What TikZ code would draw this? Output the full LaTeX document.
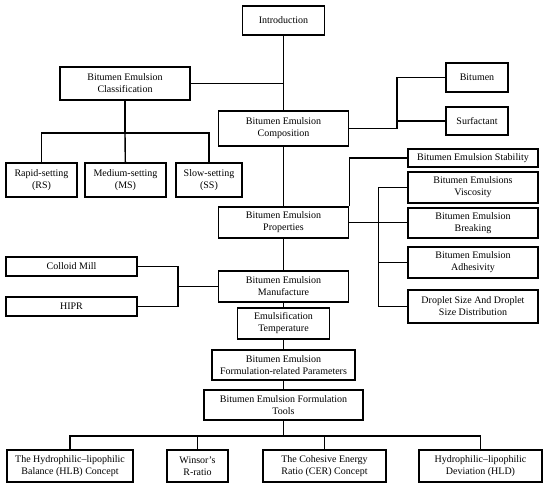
\documentclass[tikz,border=0pt]{standalone}
\usepackage{fontspec}
\setmainfont{Liberation Serif}
\usetikzlibrary{positioning,calc}

\begin{document}
\begin{tikzpicture}[
  x=1pt, y=-1pt,
  font=\fontsize{10}{12}\selectfont,
  blk/.style={draw, line width=1.4pt, align=center, inner sep=0pt,
              minimum height=31pt},
  link/.style={line width=1.4pt}
]
  \useasboundingbox (0,0) rectangle (550,490);
  % trunk
  \node[blk, minimum width=82, minimum height=29] (intro) at (283.5,20.5) {Introduction};
  \node[blk, minimum width=130, minimum height=35] (comp) at (283.5,128.5) {Bitumen Emulsion\\Composition};
  \node[blk, minimum width=130] (prop) at (283.5,222.5) {Bitumen Emulsion\\Properties};
  \node[blk, minimum width=130] (manu) at (283.5,286.5) {Bitumen Emulsion\\Manufacture};
  \node[blk, minimum width=92] (temp) at (283.5,323.5) {Emulsification\\Temperature};
  \node[blk, minimum width=143, minimum height=30] (param) at (283.5,365) {Bitumen Emulsion\\Formulation-related Parameters};
  \node[blk, minimum width=159, minimum height=30] (tools) at (283.5,405) {Bitumen Emulsion Formulation\\Tools};
  % classification
  \node[blk, minimum width=130, minimum height=33] (class) at (125,83.5) {Bitumen Emulsion\\Classification};
  \node[blk, minimum width=71, minimum height=34] (rs) at (41.5,180) {Rapid-setting\\(RS)};
  \node[blk, minimum width=81, minimum height=34] (ms) at (125.5,180) {Medium-setting\\(MS)};
  \node[blk, minimum width=66, minimum height=34] (ss) at (209,180) {Slow-setting\\(SS)};
  % composition
  \node[blk, minimum width=62, minimum height=29] (bit) at (477,77.5) {Bitumen};
  \node[blk, minimum width=62, minimum height=28] (surf) at (477,121) {Surfactant};
  % properties
  \node[blk, minimum width=130, minimum height=18] (stab) at (473,158) {Bitumen Emulsion Stability};
  \node[blk, minimum width=130] (visc) at (473,187.5) {Bitumen Emulsions\\Viscosity};
  \node[blk, minimum width=130, minimum height=30] (brk) at (473,223) {Bitumen Emulsion\\Breaking};
  \node[blk, minimum width=130] (adh) at (473,262.5) {Bitumen Emulsion\\Adhesivity};
  \node[blk, minimum width=130, minimum height=33] (drop) at (473,306.5) {Droplet Size And Droplet\\Size Distribution};
  % manufacture
  \node[blk, minimum width=131, minimum height=19] (mill) at (71.5,266.5) {Colloid Mill};
  \node[blk, minimum width=131, minimum height=19] (hipr) at (71.5,306.5) {HIPR};
  % formulation tools
  \node[blk, minimum width=126, minimum height=32] (hlb) at (70,466) {The Hydrophilic–lipophilic\\Balance (HLB) Concept};
  \node[blk, minimum width=61, minimum height=32] (winsor) at (197.5,466) {Winsor’s\\R-ratio};
  \node[blk, minimum width=123, minimum height=32] (cer) at (324.5,466) {The Cohesive Energy\\Ratio (CER) Concept};
  \node[blk, minimum width=123, minimum height=32] (hld) at (480.5,466) {Hydrophilic–lipophilic\\Deviation (HLD)};

  \coordinate (cbus) at (125,133);
  \coordinate (cj) at (397,128.5);
  \coordinate (mj) at (178,286.5);
  \coordinate (tbus) at (283.5,436);

  % main line
  \draw[link] (intro) -- (comp);
  \draw[link] (comp) -- (prop);
  \draw[link] (prop) -- (manu);
  \draw[link] (manu) -- (temp);
  \draw[link] (temp) -- (param);
  \draw[link] (param) -- (tools);
  \draw[link] (tools) -- (tbus);
  % classification branch
  \draw[link] (class.east) -- (class.east -| intro.south);
  \draw[link] (class) -- (cbus);
  \draw[link] (rs.north) |- (cbus) -| (ss.north);
  \draw[link] (ms) -- (cbus);
  % composition branch
  \draw[link] (comp.east) -- (cj);
  \draw[link] (bit.west) -| (cj);
  \draw[link] (surf.west) -- (surf.west -| cj);
  % properties branch
  \draw[link] (prop.north east) |- (stab.west);
  \draw[link] (prop.east) -- (prop.east -| brk.west);
  \draw[link] (visc.west) -- ++(-29,0) |- (drop.west);
  \draw[link] (adh.west) -- ++(-29,0);
  % manufacture branch
  \draw[link] (manu.west) -- (mj);
  \draw[link] (mill.east) -| (mj) |- (hipr.east);
  % formulation tools branch
  \draw[link] (hlb.north) |- (tbus) -| (hld.north);
  \draw[link] (winsor.north) -- (winsor.north |- tbus);
  \draw[link] (cer.north) -- (cer.north |- tbus);
\end{tikzpicture}
\end{document}
